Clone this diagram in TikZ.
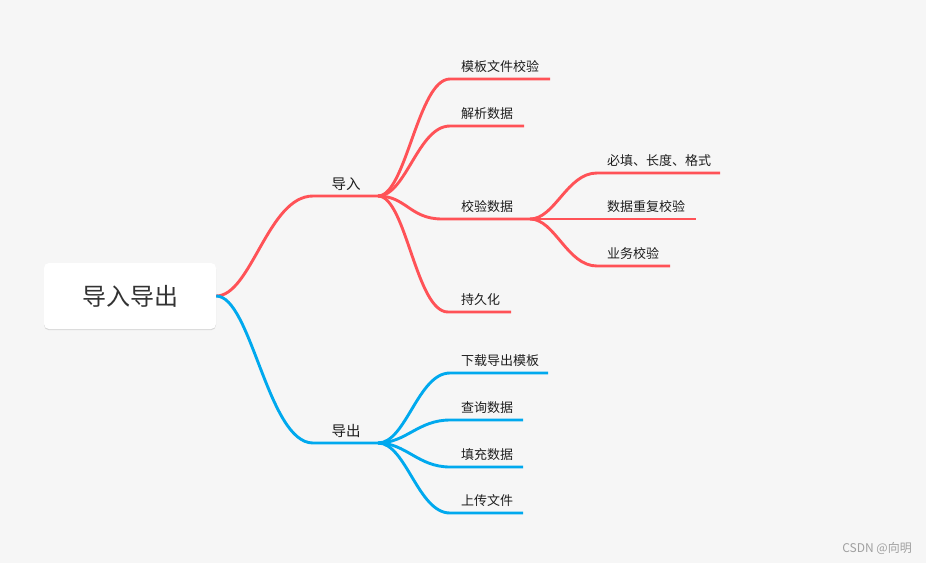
\documentclass[tikz,border=0pt]{standalone}
\usepackage{fontspec}
\setmainfont{Noto Sans CJK SC}
\usetikzlibrary{shadows}
\definecolor{bg}{HTML}{F6F6F6}
\definecolor{rd}{HTML}{FF5257}
\definecolor{bl}{HTML}{00A9EE}
\definecolor{tx}{HTML}{1E1E1E}
\definecolor{wm}{HTML}{A0A0A0}
\begin{document}
\begin{tikzpicture}[x=1pt,y=-1pt,
  redline/.style={draw=rd, line width=2.9pt},
  blueline/.style={draw=bl, line width=2.9pt},
  lbl/.style={anchor=west, inner sep=0pt, font=\fontsize{13}{13}\selectfont, text=tx},
  midlbl/.style={anchor=center, inner sep=0pt, font=\fontsize{14.5}{14.5}\selectfont, text=tx},
  rootbox/.style={draw=none, fill=white, rounded corners=5pt, minimum width=172pt, minimum height=66pt,
    inner sep=0pt, font=\fontsize{24}{24}\selectfont, text=black!80,
    drop shadow={shadow xshift=0pt, shadow yshift=-1.2pt, opacity=0.12, fill=black}}]
\fill[bg] (0,0) rectangle (926,563);
\useasboundingbox (0,0) rectangle (926,563);

% root
\node[rootbox] (root) at (130,296) {导入导出};

% level-1 coordinates
\coordinate (imS) at (313,196);
\coordinate (imJ) at (378,196);
\coordinate (exS) at (313,443);
\coordinate (exJ) at (378,443);
\node[midlbl] (imL) at (346,184) {导入};
\node[midlbl] (exL) at (346,431) {导出};

\draw[redline] (root.east) .. controls +(35,0) and +(-45,0) .. (imS) -- (imJ);
\draw[blueline] (root.east) .. controls +(35,0) and +(-45,0) .. (exS) -- (exJ);

% import children
\coordinate (a1s) at (450,79);  \coordinate (a1e) at (550,79);
\coordinate (a2s) at (450,126); \coordinate (a2e) at (524,126);
\coordinate (a3s) at (442,219); \coordinate (a3j) at (530,219);
\coordinate (a4s) at (448,312); \coordinate (a4e) at (511,312);
\node[lbl] (a1) at (461,67) {模板文件校验};
\node[lbl] (a2) at (461,114) {解析数据};
\node[lbl] (a3) at (461,207) {校验数据};
\node[lbl] (a4) at (461,300) {持久化};

\draw[redline] (imJ) .. controls +(28,0) and +(-32,0) .. (a1s) -- (a1e);
\draw[redline] (imJ) .. controls +(28,0) and +(-32,0) .. (a2s) -- (a2e);
\draw[redline] (imJ) .. controls +(28,0) and +(-32,0) .. (a3s) -- (a3j);
\draw[redline] (imJ) .. controls +(28,0) and +(-32,0) .. (a4s) -- (a4e);

% sub children of 校验数据
\coordinate (b1s) at (597,173); \coordinate (b1e) at (720,173);
\coordinate (b2e) at (696,219);
\coordinate (b3s) at (597,266); \coordinate (b3e) at (670,266);
\node[lbl] (b1) at (607,161) {必填、长度、格式};
\node[lbl] (b2) at (607,207) {数据重复校验};
\node[lbl] (b3) at (607,254) {业务校验};

\draw[redline] (a3j) .. controls +(25,0) and +(-30,0) .. (b1s) -- (b1e);
\draw[redline] (a3j) -- (b2e);
\draw[redline] (a3j) .. controls +(25,0) and +(-30,0) .. (b3s) -- (b3e);

% export children
\coordinate (c1s) at (450,373); \coordinate (c1e) at (548,373);
\coordinate (c2s) at (450,420); \coordinate (c2e) at (523,420);
\coordinate (c3s) at (450,467); \coordinate (c3e) at (523,467);
\coordinate (c4s) at (450,513); \coordinate (c4e) at (523,513);
\node[lbl] (c1) at (461,361) {下载导出模板};
\node[lbl] (c2) at (461,408) {查询数据};
\node[lbl] (c3) at (461,455) {填充数据};
\node[lbl] (c4) at (461,501) {上传文件};

\draw[blueline] (exJ) .. controls +(28,0) and +(-32,0) .. (c1s) -- (c1e);
\draw[blueline] (exJ) .. controls +(28,0) and +(-32,0) .. (c2s) -- (c2e);
\draw[blueline] (exJ) .. controls +(28,0) and +(-32,0) .. (c3s) -- (c3e);
\draw[blueline] (exJ) .. controls +(28,0) and +(-32,0) .. (c4s) -- (c4e);

% watermark
\node[anchor=east, inner sep=0pt, font=\fontsize{12}{12}\selectfont, text=wm] (wmk) at (912,548) {CSDN @向明};
\end{tikzpicture}
\end{document}
